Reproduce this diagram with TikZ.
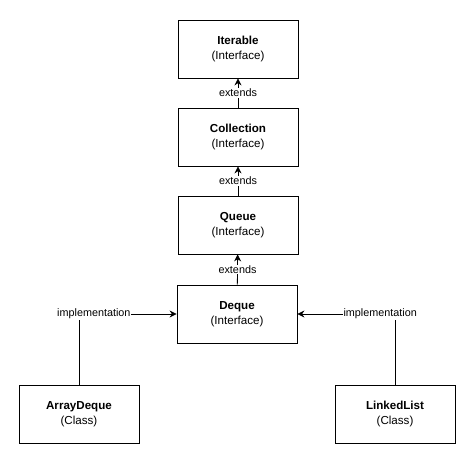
\documentclass[tikz,border=0pt]{standalone}
\usepackage{fontspec}
\setmainfont{Liberation Sans}
\usetikzlibrary{arrows.meta}

\begin{document}
\begin{tikzpicture}[x=1pt,y=-1pt,
  font=\fontsize{10.8}{14}\selectfont,
  typebox/.style={draw,line width=0.8pt,minimum width=120pt,minimum height=58pt,align=center,
    font=\fontsize{11.6}{15}\selectfont},
  rel/.style={line width=0.8pt,-{Stealth[length=7pt,width=7pt]}},
  rellabel/.style={fill=white,inner sep=1pt}]
\useasboundingbox (0,0) rectangle (474,464);
% interfaces:
\node[typebox] (iterable) at (238,49) {\textbf{Iterable}\\(Interface)};
\node[typebox] (collection) at (238,137) {\textbf{Collection}\\(Interface)};
\node[typebox] (queue) at (238,225) {\textbf{Queue}\\(Interface)};
\node[typebox] (deque) at (237,314) {\textbf{Deque}\\(Interface)};
% classes:
\node[typebox] (arraydeque) at (79,414) {\textbf{ArrayDeque}\\(Class)};
\node[typebox] (linkedlist) at (395,414) {\textbf{LinkedList}\\(Class)};
% extends:
\draw[rel] (collection) -- node[rellabel] {extends} (iterable);
\draw[rel] (queue) -- node[rellabel] {extends} (collection);
\draw[rel] (deque) -- node[rellabel] {extends} (queue);
% implementation:
\draw[rel] (arraydeque.north) |- node[rellabel,pos=0.576] {implementation} (deque.west);
\draw[rel] (linkedlist.north) |- node[rellabel,pos=0.576] {implementation} (deque.east);
\end{tikzpicture}
\end{document}
